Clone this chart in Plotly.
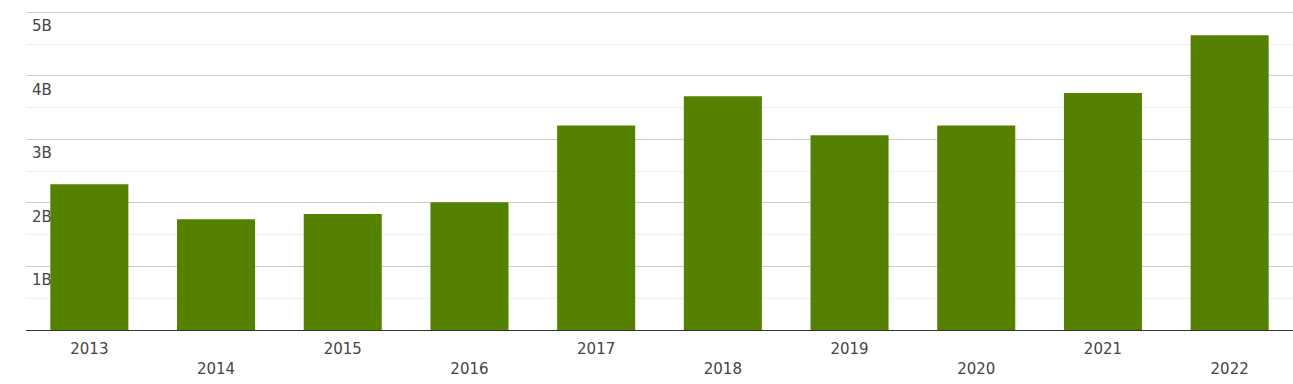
import plotly.graph_objects as go

years = ["2013", "2014", "2015", "2016", "2017", "2018", "2019", "2020", "2021", "2022"]
values = [2.295e9, 1.745e9, 1.824e9, 2.01e9, 3.22e9, 3.68e9, 3.066e9, 3.22e9, 3.73e9, 4.64e9]
ytick_vals = [1e9, 2e9, 3e9, 4e9, 5e9]
ytick_text = ["1B", "2B", "3B", "4B", "5B"]

xtick_text = [y if i % 2 == 0 else "<br>" + y for i, y in enumerate(years)]

fig = go.Figure(go.Bar(x=years, y=values, marker_color="#548200", marker_line_width=0))
fig.update_layout(
    width=1293, height=384,
    margin=dict(l=26, r=0, t=6, b=54),
    paper_bgcolor="white", plot_bgcolor="white",
    bargap=0.384,
    showlegend=False,
    font=dict(family="DejaVu Sans", size=15, color="#444"),
)
fig.update_xaxes(
    range=[-0.5, 9.5],
    tickmode="array", tickvals=years, ticktext=xtick_text,
    showline=True, linecolor="#333", linewidth=1,
    showgrid=False, ticks="", ticklabelstandoff=5,
    tickfont=dict(size=15, color="#444"),
)
fig.update_yaxes(
    range=[0, 5.1e9], tickmode="array", tickvals=ytick_vals, ticktext=ytick_text,
    ticklabelposition="inside bottom", ticklabelstandoff=3, ticklabelshift=3,
    showgrid=True, gridcolor="#ccc", gridwidth=1,
    zeroline=False, showline=False, ticks="", layer="below traces",
    tickfont=dict(size=15, color="#444"),
    minor=dict(tickmode="array", tickvals=[0.5e9, 1.5e9, 2.5e9, 3.5e9, 4.5e9], showgrid=True, gridcolor="#eee", gridwidth=1),
)
fig.write_html("out.html")
